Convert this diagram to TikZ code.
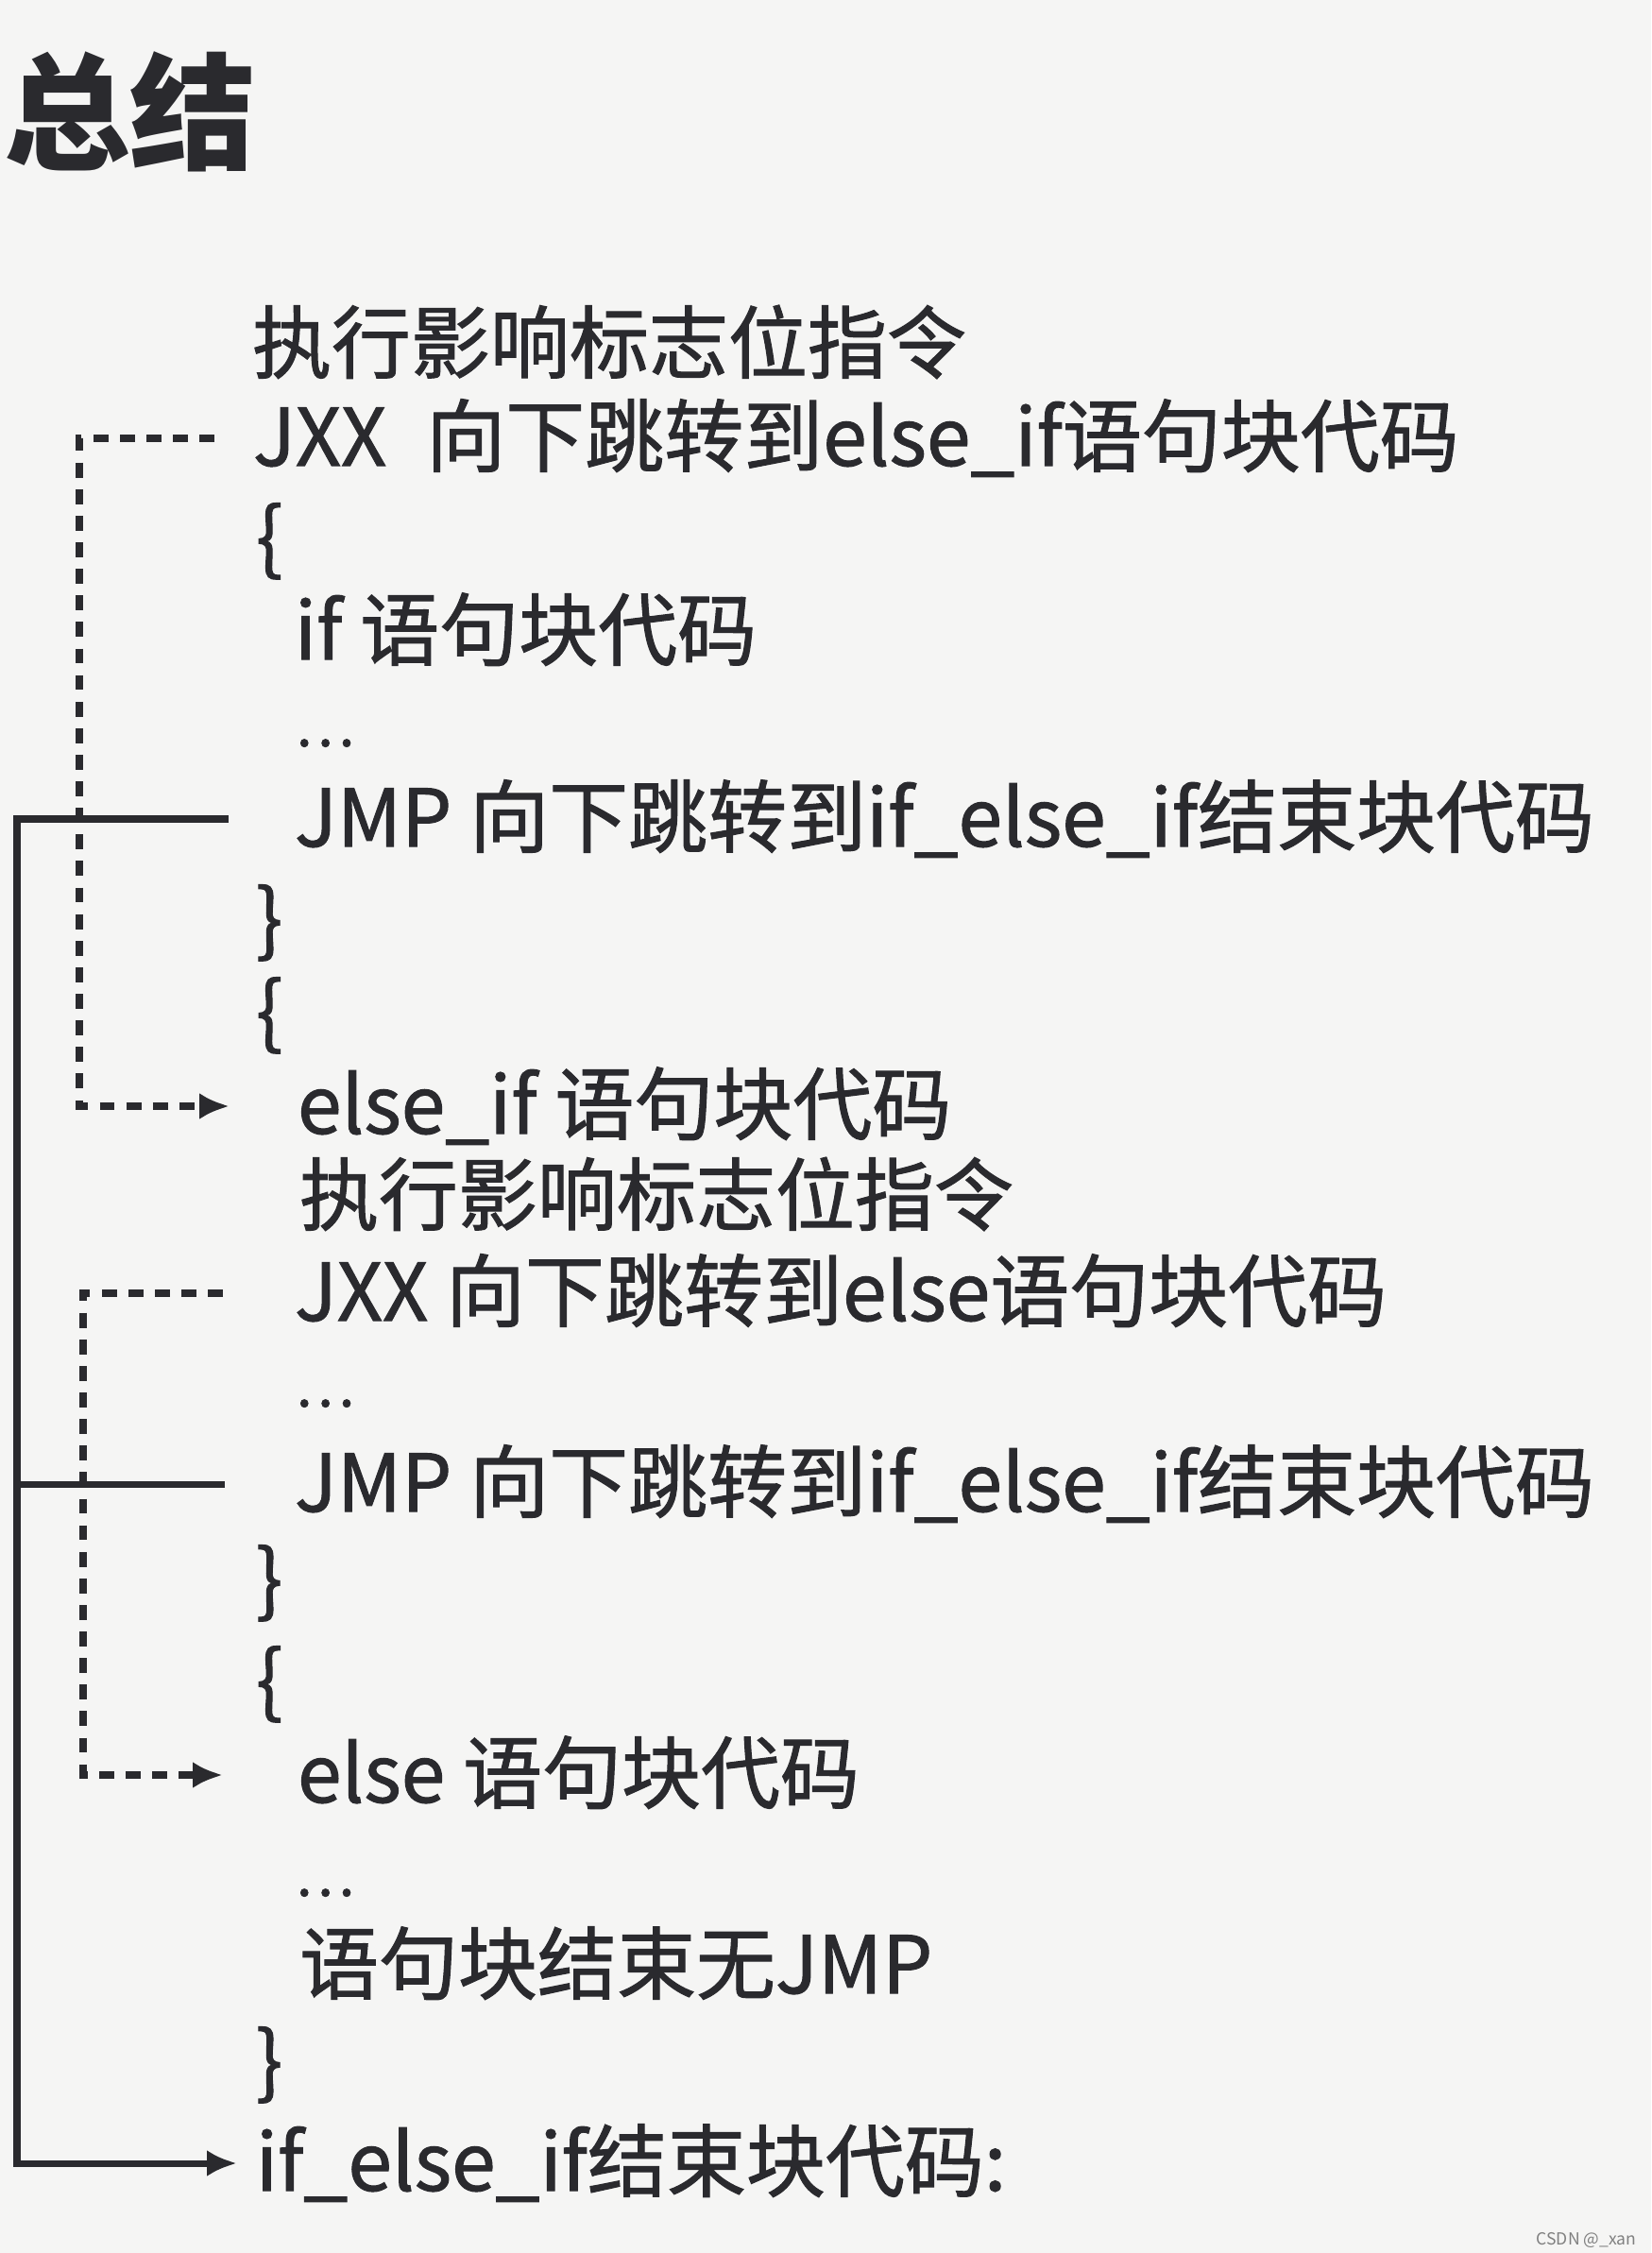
\documentclass[tikz,border=0pt]{standalone}
\usepackage{fontspec}
\setmainfont{Noto Sans CJK SC}
\newfontfamily\codefont{Noto Sans CJK SC}[FakeBold=1.2]
\usetikzlibrary{arrows.meta}
\definecolor{paper}{RGB}{245,245,244}
\definecolor{ink}{RGB}{42,42,46}
\tikzset{
  code/.style={anchor=west,inner sep=0pt,outer sep=0pt,text=ink,
    font=\codefont\fontsize{23.9pt}{28pt}\selectfont,text height=0.68cm,text depth=0.1cm},
  jmpline/.style={draw=ink,line width=2pt},
  jxxline/.style={draw=ink,line width=2.2pt,dash pattern=on 4.5pt off 3.5pt}
}
\newcommand{\moredots}{{\fontsize{17pt}{17pt}\selectfont …}}

\begin{document}
\begin{tikzpicture}[>={Latex[length=3.2mm,width=2.8mm]}]
\useasboundingbox[fill=paper] (0,0) rectangle (17.48,-23.85);
\node[code,font=\fontsize{38pt}{44pt}\selectfont\bfseries,text height=1.1cm,text depth=0.15cm] (title) at (0.04,-1.22) {总结}; % heading
% first block: if
\node[code] (flagA) at (2.67,-3.65) {执行影响标志位指令};
\node[code] (jxxA) at (2.68,-4.64) {JXX\hspace{0.5em}向下跳转到else\_if语句块代码};
\node[code] (openA) at (2.71,-5.70) {\{};
\node[code] (ifcode) at (3.12,-6.69) {if 语句块代码};
\node[code] (dotsA) at (3.12,-7.61) {\moredots};
\node[code] (jmpA) at (3.12,-8.67) {JMP 向下跳转到if\_else\_if结束块代码};
\node[code] (closeA) at (2.71,-9.74) {\}};
% second block: else_if
\node[code] (openB) at (2.71,-10.72) {\{};
\node[code] (eifcode) at (3.15,-11.71) {else\_if 语句块代码};
\node[code] (flagB) at (3.17,-12.67) {执行影响标志位指令};
\node[code] (jxxB) at (3.12,-13.69) {JXX 向下跳转到else语句块代码};
\node[code] (dotsB) at (3.12,-14.60) {\moredots};
\node[code] (jmpB) at (3.12,-15.71) {JMP 向下跳转到if\_else\_if结束块代码};
\node[code] (closeB) at (2.71,-16.73) {\}};
% third block: else
\node[code] (openC) at (2.71,-17.80) {\{};
\node[code] (elsecode) at (3.15,-18.79) {else 语句块代码};
\node[code] (dotsC) at (3.12,-19.78) {\moredots};
\node[code] (noJmp) at (3.17,-20.81) {语句块结束无JMP};
\node[code] (closeC) at (2.71,-21.83) {\}};
\node[code] (endcode) at (2.71,-22.90) {if\_else\_if结束块代码:};
\node[anchor=east,inner sep=0pt,text=gray,font=\fontsize{5pt}{6pt}\selectfont] (mark) at (17.33,-23.71) {CSDN @\_xan}; % watermark
% jump columns
\coordinate (dashA) at (0.84,0);
\coordinate (dashB) at (0.88,0);
\coordinate (rail) at (0.18,0);
\draw[jxxline,->] ([xshift=-4.1mm]jxxA.west) -- (jxxA.west -| dashA) |- ([xshift=-7.2mm]eifcode.west); % JXX -> else_if
\draw[jxxline,->] ([xshift=-7.6mm]jxxB.west) -- (jxxB.west -| dashB) |- ([xshift=-7.9mm]elsecode.west); % JXX -> else
\draw[jmpline,->] ([xshift=-7mm]jmpA.west) -- (jmpA.west -| rail) |- ([xshift=-2mm]endcode.west); % JMP -> end
\draw[jmpline] ([xshift=-7.4mm]jmpB.west) -- (jmpB.west -| rail); % JMP -> end
\end{tikzpicture}
\end{document}
